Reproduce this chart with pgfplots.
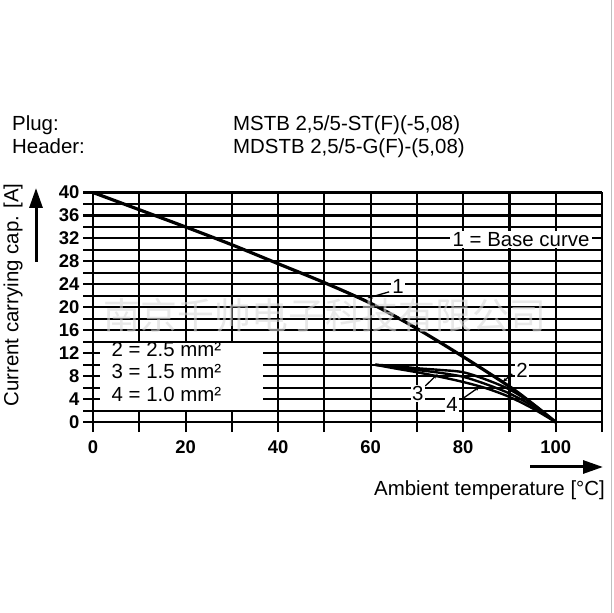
\documentclass[border=0pt]{standalone}
\usepackage{pgfplots}
\pgfplotsset{compat=1.18}
\usepackage{fontspec}
\setmainfont{Liberation Sans}
\newfontfamily\cjk{Noto Sans CJK SC}
\usetikzlibrary{arrows.meta}
\begin{document}
\begin{tikzpicture}[x=1bp,y=1bp]
\path[use as bounding box] (0,0) rectangle (614,613);
\draw[gray!50, line width=1bp] (611.5,0) -- (611.5,613);
% header
\node[anchor=base west, inner sep=0pt, font=\fontsize{20.5}{20.5}\selectfont] at (12,482) {Plug:};
\node[anchor=base west, inner sep=0pt, font=\fontsize{20.5}{20.5}\selectfont] at (12,459) {Header:};
\node[anchor=base west, inner sep=0pt, font=\fontsize{20.5}{20.5}\selectfont] at (233,482) {MSTB 2,5/5-ST(F)(-5,08)};
\node[anchor=base west, inner sep=0pt, font=\fontsize{20.5}{20.5}\selectfont] at (233,459) {MDSTB 2,5/5-G(F)-(5,08)};
% axis labels and arrows
\node[rotate=90, inner sep=0pt, font=\fontsize{20.5}{20.5}\selectfont] at (13,318) {Current carrying cap. [A]};
\draw[line width=3bp, -{Triangle[width=13bp,length=20bp]}] (36,351) -- (36,425);
\node[anchor=base east, inner sep=0pt, font=\fontsize{20.5}{20.5}\selectfont] at (605,117) {Ambient temperature [°C]};
\draw[line width=3bp, -{Triangle[width=13bp,length=20bp]}] (530,146) -- (603,146);
\begin{axis}[
  at={(93bp,190.8bp)}, anchor=south west,
  scale only axis, width=509bp, height=229.7bp,
  xmin=0, xmax=110, ymin=0, ymax=40,
  axis line style={draw=none},
  xtick={0,10,...,110},
  xticklabels={0,,20,,40,,60,,80,,100,},
  ytick={0,2,...,40},
  yticklabels={0,,4,,8,,12,,16,,20,,24,,28,,32,,36,,40},
  xtick pos=bottom, ytick pos=left,
  grid=major,
  grid style={black, line width=2.1bp},
  major tick length=10bp, tick align=outside,
  tick style={black, line width=2.1bp},
  ticklabel style={font=\fontsize{18.5}{18.5}\selectfont\bfseries},
  xticklabel style={yshift=-5bp},
  /pgf/number format/assume math mode=true,
  clip=false,
]
\addplot[black, line width=3.2bp, smooth] coordinates {
 (0,40) (10,37.0) (20,34.0) (30,30.9) (40,27.6) (50,24.3) (60,20.7) (70,16.3) (80,11.4) (90,6.2) (95,3.2) (100,0)};
\addplot[black, line width=2.4bp, smooth] coordinates {
 (61,10) (65,9.8) (70,9.4) (75,9.1) (80,8.7) (85,7.4) (90,5.7) (95,3.2) (100,0)};
\addplot[black, line width=2.4bp, smooth] coordinates {
 (61,10) (65,9.6) (70,9.1) (75,8.6) (80,7.9) (85,6.6) (90,5.0) (95,2.8) (100,0)};
\addplot[black, line width=2.4bp, smooth] coordinates {
 (61,10) (65,9.4) (70,8.7) (75,7.9) (80,7.0) (85,5.9) (90,4.4) (95,2.4) (100,0)};
% legend box
\fill[white] (axis cs:1.5,2.2) rectangle (axis cs:36.7,13.8);
\node[anchor=west, inner sep=0pt, font=\fontsize{20.5}{20.5}\selectfont] at (axis cs:4,12.6) {2 = 2.5 mm²};
\node[anchor=west, inner sep=0pt, font=\fontsize{20.5}{20.5}\selectfont] at (axis cs:4,8.75) {3 = 1.5 mm²};
\node[anchor=west, inner sep=0pt, font=\fontsize{20.5}{20.5}\selectfont] at (axis cs:4,4.75) {4 = 1.0 mm²};
\node[fill=white, inner xsep=3bp, inner ysep=1bp, font=\fontsize{20.5}{20.5}\selectfont] at (axis cs:92.5,31.8) {1 = Base curve};
% curve labels
\draw[line width=1.3bp, -{Stealth[length=5bp]}] (axis cs:64,22.7) -- (axis cs:59.3,21.6);
\node[fill=white, inner sep=1bp, font=\fontsize{20.5}{20.5}\selectfont] at (axis cs:65.9,23.6) {1};
\draw[line width=1.3bp, -{Stealth[length=5bp]}] (axis cs:90.6,8.4) -- (axis cs:88.5,7.0);
\node[fill=white, inner sep=1bp, font=\fontsize{20.5}{20.5}\selectfont] at (axis cs:92.7,9.1) {2};
\draw[line width=1.3bp, -{Stealth[length=5bp]}] (axis cs:71.8,6.3) -- (axis cs:74.5,8.4);
\node[fill=white, inner sep=1bp, font=\fontsize{20.5}{20.5}\selectfont] at (axis cs:70.2,5.0) {3};
\draw[line width=1.3bp, -{Stealth[length=5bp]}] (axis cs:79.7,4.0) -- (axis cs:83.6,6.2);
\node[fill=white, inner sep=1bp, font=\fontsize{20.5}{20.5}\selectfont] at (axis cs:77.6,3.1) {4};
\end{axis}
% watermark
\node[text=gray!30, opacity=0.6, inner sep=0pt, font=\cjk\fontsize{37}{37}\selectfont] at (325,298) {南京千帅电子科技有限公司};
\end{tikzpicture}
\end{document}
